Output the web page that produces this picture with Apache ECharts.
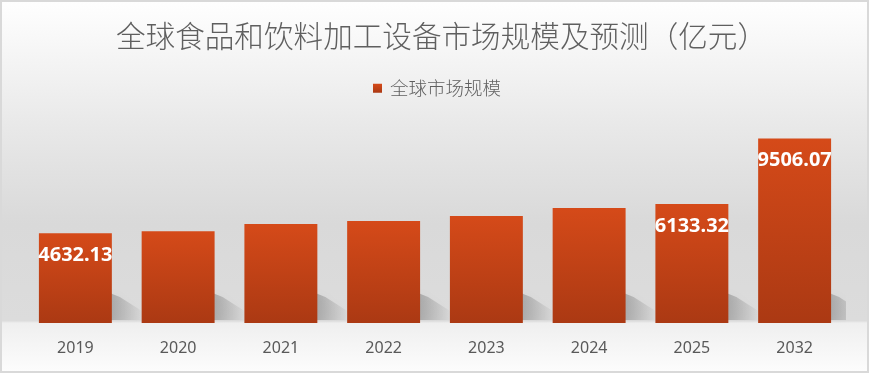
<!DOCTYPE html>
<html>
<head>
<meta charset="utf-8">
<script src="https://cdn.jsdelivr.net/npm/echarts@6/dist/echarts.min.js"></script>
<style>
html,body{margin:0;padding:0;background:#fff;}
#c{width:869px;height:373px;}
</style>
</head>
<body>
<div id="c"></div>
<script>
const titleText = '全球食品和饮料加工设备市场规模及预测（亿元）';
const seriesName = '全球市场规模';
const categories = ['2019', '2020', '2021', '2022', '2023', '2024', '2025', '2032'];
const values = [4632.13, 4735, 5097, 5252, 5510, 5923, 6133.32, 9506.07];
const labeledYears = ['2019', '2025', '2032'];

const chart = echarts.init(document.getElementById('c'));
const barGrad = new echarts.graphic.LinearGradient(0, 0, 0, 1, [
  {offset: 0, color: '#d54a19'},
  {offset: 1, color: '#ab3913'}
]);
const BAR_RATIO = 0.71;

chart.setOption({
  backgroundColor: new echarts.graphic.LinearGradient(0, 0, 0, 1, [
    {offset: 0, color: '#ffffff'},
    {offset: 0.33, color: '#e9e9e9'},
    {offset: 0.6, color: '#d9d9d9'},
    {offset: 0.86, color: '#dcdcdc'},
    {offset: 0.866, color: '#efefef'},
    {offset: 1, color: '#fdfdfd'}
  ]),
  animation: false,
  title: {
    text: titleText,
    left: 116,
    top: 21,
    padding: 0,
    textStyle: {fontFamily: 'Noto Sans CJK SC', fontWeight: 300, fontSize: 29.6, color: '#5f5f5f'}
  },
  legend: {
    data: [seriesName],
    top: 79,
    left: 373,
    padding: 0,
    itemWidth: 9,
    itemHeight: 9,
    icon: 'rect',
    itemGap: 6,
    textStyle: {fontFamily: 'Noto Sans CJK SC', fontWeight: 300, fontSize: 18.5, color: '#5f5f5f', padding: [0, 0, 0, 3]}
  },
  grid: {left: 24, right: 23, top: 129, bottom: 50, containLabel: false},
  xAxis: {
    type: 'category',
    data: categories,
    axisLine: {show: false},
    axisTick: {show: false},
    axisLabel: {fontFamily: 'Noto Sans', fontSize: 16, color: '#595959', margin: 17}
  },
  yAxis: {
    type: 'value',
    min: 0,
    max: 10000,
    show: false,
    splitLine: {show: false}
  },
  graphic: [{
    type: 'rect',
    z: 100,
    shape: {x: 1, y: 1, width: 867, height: 371},
    style: {fill: 'none', stroke: '#d9d9d9', lineWidth: 2}
  }],
  series: [
    {
      type: 'custom',
      z: 1,
      silent: true,
      clip: true,
      data: values.map((v, i) => [i, v]),
      renderItem: function (params, api) {
        const base = api.coord([api.value(0), 0]);
        const w = api.size([1, 0])[0] * BAR_RATIO;
        const xr = base[0] + w / 2;
        const y = base[1];
        return {
          type: 'polygon',
          shape: {points: [[xr - 2, y - 30], [xr + 8, y - 26], [xr + 30, y - 12], [xr + 30, y - 3], [xr - 2, y - 3]]},
          style: {
            fill: new echarts.graphic.LinearGradient(0, 0, 1, 0, [
              {offset: 0, color: 'rgba(0,0,0,0.22)'},
              {offset: 1, color: 'rgba(0,0,0,0.02)'}
            ]),
            shadowBlur: 10,
            shadowColor: 'rgba(0,0,0,0.15)'
          }
        };
      }
    },
    {
      name: seriesName,
      type: 'bar',
      z: 2,
      barWidth: (BAR_RATIO * 100) + '%',
      data: values.map((v, i) => ({
        value: v,
        label: {show: labeledYears.indexOf(categories[i]) >= 0}
      })),
      itemStyle: {color: barGrad},
      label: {
        position: 'insideTop',
        distance: 12,
        fontFamily: 'Noto Sans',
        fontWeight: 'bold',
        fontSize: 20,
        color: '#ffffff',
        formatter: p => p.value.toFixed(2)
      }
    }
  ]
});
</script>
</body>
</html>
